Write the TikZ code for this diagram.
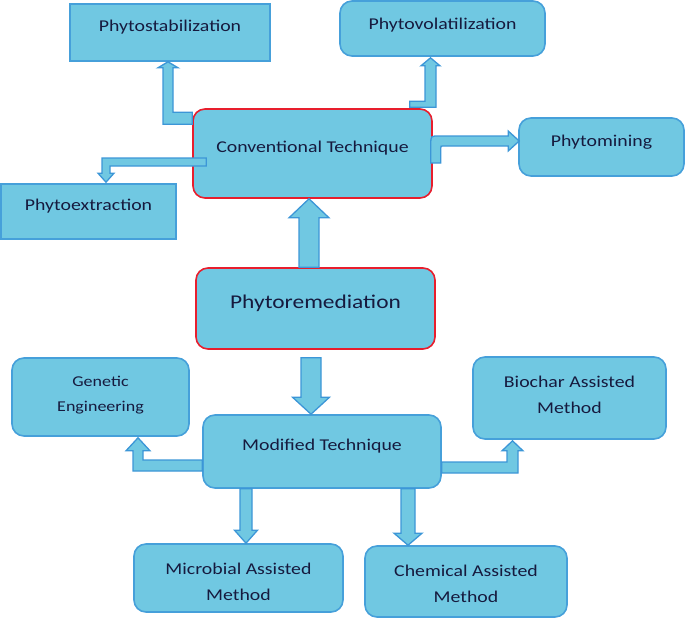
\documentclass[tikz,border=0pt]{standalone}
\usepackage{fontspec}
\setmainfont[FakeStretch=1.2]{Carlito}
\usetikzlibrary{positioning, calc}
\definecolor{boxfill}{RGB}{112,200,226}
\definecolor{boxline}{RGB}{70,160,218}
\definecolor{arrline}{RGB}{60,150,215}
\definecolor{keyline}{RGB}{232,30,45}
\definecolor{txtcol}{RGB}{22,26,62}
\newcommand{\vblk}[5]{% start, tip, half shaft, half head, head length
  \filldraw[blk] let \p1=(#1), \p2=(#2) in
    ({\x1-#3},\y1) -- ({\x1-#3},{\y2-(#5)}) -- ({\x1-#4},{\y2-(#5)}) -- (\x1,\y2)
    -- ({\x1+#4},{\y2-(#5)}) -- ({\x1+#3},{\y2-(#5)}) -- ({\x1+#3},\y1) -- cycle;}

\begin{document}
\begin{tikzpicture}[x=1pt, y=-1pt]
\tikzset{
  box/.style={draw=boxline, fill=boxfill, line width=1.6pt, rounded corners=12pt, inner sep=0pt},
  sqbox/.style={box, sharp corners},
  keybox/.style={box, draw=keyline},
  lbl/.style={text=txtcol, font=\fontsize{16.5}{26}\selectfont, align=center, inner sep=0pt},
  blk/.style={fill=boxfill, draw=arrline, line width=1.3pt, line join=miter}
}
\useasboundingbox (0,0) rectangle (685,619);

% conventional branch
\node[sqbox, minimum width=200pt, minimum height=57pt] (stab) at (170,32.5) {};
\node[box, minimum width=205pt, minimum height=55pt] (vol) at (442.5,28.5) {};
\node[keybox, minimum width=239pt, minimum height=89pt] (conv) at (312.5,153.5) {};
\node[box, minimum width=165pt, minimum height=58pt] (mine) at (601.5,147) {};
\node[sqbox, minimum width=175pt, minimum height=55pt] (extr) at (88.5,211.5) {};

\node[lbl] (stabt) at (170,27) {Phytostabilization};
\node[lbl] (volt) at (442.5,25) {Phytovolatilization};
\node[lbl] (convt) at (312.5,148) {Conventional Technique};
\node[lbl] (minet) at (601.5,142) {Phytomining};
\node[lbl] (extrt) at (88.5,206) {Phytoextraction};

% centre
\node[keybox, minimum width=239pt, minimum height=81pt] (rem) at (315.5,308.5) {};
\node[lbl, font=\fontsize{19.5}{26}\selectfont] (remt) at (315.5,303) {Phytoremediation};

% modified branch
\node[box, minimum width=177pt, minimum height=78pt] (gen) at (100.5,397) {};
\node[box, minimum width=193pt, minimum height=82pt] (bio) at (569.5,398) {};
\node[box, minimum width=238pt, minimum height=73pt] (mod) at (322,451.5) {};
\node[box, minimum width=209pt, minimum height=68pt] (mic) at (238.5,578) {};
\node[box, minimum width=202pt, minimum height=71pt] (chem) at (466,581.5) {};

\node[lbl, font=\fontsize{15}{25}\selectfont] (gent) at (100.5,395) {Genetic\\Engineering};
\node[lbl] (biot) at (569.5,395) {Biochar Assisted\\Method};
\node[lbl] (modt) at (322,446) {Modified Technique};
\node[lbl] (mict) at (238.5,581.5) {Microbial Assisted\\Method};
\node[lbl] (chemt) at (466,583.5) {Chemical Assisted\\Method};

% block arrows
\vblk{[xshift=-6.5pt]rem.north}{conv.south}{10pt}{20pt}{19pt}
\vblk{[xshift=-4.5pt,yshift=-8pt]rem.south}{mod.north}{10pt}{18.5pt}{-17pt}
\vblk{[xshift=-76pt]mod.south}{mic.north}{6pt}{11.5pt}{-13pt}
\vblk{[xshift=86pt]mod.south}{chem.north}{7pt}{14pt}{-12pt}

\filldraw[blk] let \p1=(conv.north west), \p2=(stab.south) in
  (\x1,\y1-4pt) -- (\x2+3pt,\y1-4pt) -- (\x2+3pt,\y2-6pt) -- (\x2+8pt,\y2-6pt) -- (\x2-2pt,\y2)
  -- (\x2-12pt,\y2-6pt) -- (\x2-7pt,\y2-6pt) -- (\x2-7pt,\y1-16pt) -- (\x1,\y1-16pt) -- cycle;
\filldraw[blk] let \p1=(conv.north east), \p2=(vol.south) in
  (\x1-23pt,\y1+1pt) -- (\x2-6.5pt,\y1+1pt) -- (\x2-6.5pt,\y2-9pt) -- (\x2-2.5pt,\y2-9pt) -- (\x2-12pt,\y2-1pt)
  -- (\x2-21.5pt,\y2-9pt) -- (\x2-17.5pt,\y2-9pt) -- (\x2-17.5pt,\y1+7pt) -- (\x1-23pt,\y1+7pt) -- cycle;
\filldraw[blk] let \p1=(conv.east), \p2=(mine.west) in
  (\x1-2pt,\y1-9.5pt) -- (\x1-2pt,\y2+3pt) .. controls (\x1-2pt,\y2+11pt) .. (\x1+6pt,\y2+11pt)
  -- (\x2-10pt,\y2+11pt) -- (\x2-10pt,\y2+16pt) -- (\x2+1pt,\y2+6pt) -- (\x2-10pt,\y2-4pt)
  -- (\x2-10pt,\y2+1pt) -- (\x1+10pt,\y2+1pt) .. controls (\x1+8pt,\y2+1pt) .. (\x1+8pt,\y2-1pt)
  -- (\x1+8pt,\y1-9.5pt) -- cycle;
\filldraw[blk] let \p1=(conv.west), \p2=(extr.north) in
  (\x1+14pt,\y1-4.5pt) -- (\x2+13.5pt,\y1-4.5pt) -- (\x2+13.5pt,\y2+10pt) -- (\x2+9.5pt,\y2+10pt) -- (\x2+17.5pt,\y2+1pt)
  -- (\x2+25.5pt,\y2+10pt) -- (\x2+21.5pt,\y2+10pt) -- (\x2+21.5pt,\y1-12.5pt) -- (\x1+14pt,\y1-12.5pt) -- cycle;
\filldraw[blk] let \p1=(mod.west), \p2=(gen.south) in
  (\x1,\y1-8.5pt) -- (\x2+42.5pt,\y1-8.5pt) -- (\x2+42.5pt,\y2-14pt) -- (\x2+49.5pt,\y2-14pt) -- (\x2+37.5pt,\y2-1pt)
  -- (\x2+25.5pt,\y2-14pt) -- (\x2+32.5pt,\y2-14pt) -- (\x2+32.5pt,\y1-19.5pt) -- (\x1,\y1-19.5pt) -- cycle;
\filldraw[blk] let \p1=(mod.east), \p2=(bio.south) in
  (\x1,\y1-10.5pt) -- (\x2-62.5pt,\y1-10.5pt) -- (\x2-62.5pt,\y2-11pt) -- (\x2-67.5pt,\y2-11pt) -- (\x2-57pt,\y2-1pt)
  -- (\x2-46.5pt,\y2-11pt) -- (\x2-51.5pt,\y2-11pt) -- (\x2-51.5pt,\y1-21.5pt) -- (\x1,\y1-21.5pt) -- cycle;
\end{tikzpicture}
\end{document}
